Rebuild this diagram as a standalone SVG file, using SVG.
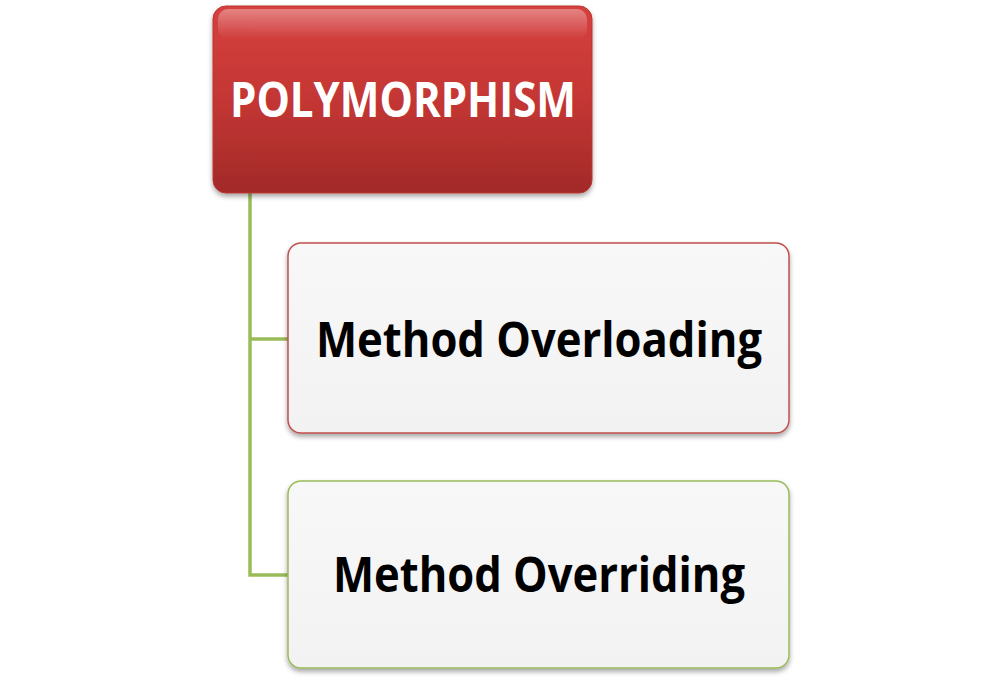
<svg xmlns="http://www.w3.org/2000/svg" width="1000" height="686" viewBox="0 0 1000 686">
<defs>
<linearGradient id="gRed" x1="0" y1="0" x2="0" y2="1">
<stop offset="0" stop-color="#d6403e"/>
<stop offset="0.5" stop-color="#c43634"/>
<stop offset="1" stop-color="#a22a28"/>
</linearGradient>
<linearGradient id="gGloss" x1="0" y1="0" x2="0" y2="1">
<stop offset="0" stop-color="#ffffff" stop-opacity="0.35"/>
<stop offset="1" stop-color="#ffffff" stop-opacity="0"/>
</linearGradient>
<linearGradient id="gLight" x1="0" y1="0" x2="0" y2="1">
<stop offset="0" stop-color="#f8f8f8"/>
<stop offset="1" stop-color="#f2f2f2"/>
</linearGradient>
<filter id="shadow" x="-10%" y="-10%" width="120%" height="130%">
<feDropShadow dx="0" dy="3" stdDeviation="2.5" flood-color="#000" flood-opacity="0.35"/>
</filter>
</defs>
<style>
.lbl{font-family:"Open Sans","Liberation Sans",sans-serif;font-weight:bold;text-anchor:middle}
.conn{fill:none;stroke:#9bbb59;stroke-width:3.5}
</style>
<rect width="1000" height="686" fill="#ffffff"/>
<g id="connectors">
<path class="conn" d="M250,193 V575 H289"/>
<path class="conn" d="M250,339 H289"/>
</g>
<g id="polymorphism">
<rect x="213" y="6" width="379" height="187" rx="13" fill="url(#gRed)" stroke="#b83633" stroke-width="1" filter="url(#shadow)"/>
<rect x="218" y="9" width="369" height="30" rx="10" fill="url(#gGloss)"/>
<text class="lbl" x="403" y="117" font-size="48" fill="#ffffff" textLength="346" lengthAdjust="spacingAndGlyphs">POLYMORPHISM</text>
</g>
<g id="overloading">
<rect x="288" y="243" width="501" height="190" rx="13" fill="url(#gLight)" stroke="#c0504d" stroke-width="1.5" filter="url(#shadow)"/>
<text class="lbl" x="539" y="357" font-size="48" fill="#000000" textLength="446" lengthAdjust="spacingAndGlyphs">Method Overloading</text>
</g>
<g id="overriding">
<rect x="288" y="481" width="501" height="187" rx="13" fill="url(#gLight)" stroke="#9bbb59" stroke-width="1.5" filter="url(#shadow)"/>
<text class="lbl" x="539" y="592" font-size="48" fill="#000000" textLength="412" lengthAdjust="spacingAndGlyphs">Method Overriding</text>
</g>
</svg>
